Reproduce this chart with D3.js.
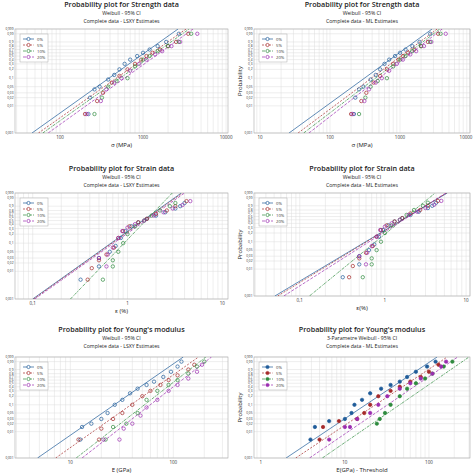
<!DOCTYPE html>
<html><head><meta charset="utf-8">
<script src="https://cdn.jsdelivr.net/npm/d3@7"></script>
<style>body{margin:0;background:#fff}text{font-family:"Open Sans",sans-serif}</style>
</head><body>
<script>
// series
let seriesNames = ['0%', '5%', '10%', '20%'];
let colors = ['#1f5c99', '#a52a2a', '#2e8b3e', '#9b2db0'];
let dashes = [null, '2,1.5', '3,1,1,1', '3,1.5'];
let probTicks = [0.001, 0.01, 0.02, 0.03, 0.05, 0.1, 0.2, 0.3, 0.4, 0.5, 0.6, 0.7, 0.8, 0.9, 0.99, 0.999];

// strength points [MPa, probability]
let strength0 = [[220,0.005],[230,0.02],[260,0.04],[300,0.05],[380,0.09],[450,0.13],[520,0.2],[600,0.3],[700,0.4],[850,0.5],[1000,0.6],[1200,0.7],[1500,0.8],[1900,0.9],[2700,0.99]];
let strength5 = [[200,0.005],[280,0.015],[330,0.03],[420,0.07],[520,0.12],[650,0.2],[800,0.3],[950,0.4],[1100,0.5],[1300,0.6],[1600,0.7],[2000,0.8],[2500,0.9],[3500,0.99]];
let strength10 = [[260,0.005],[320,0.02],[380,0.05],[480,0.08],[650,0.1],[800,0.25],[1000,0.4],[1200,0.5],[1500,0.65],[2000,0.8],[2700,0.9],[3800,0.99]];
let strength20 = [[210,0.005],[310,0.015],[360,0.04],[450,0.07],[550,0.1],[700,0.18],[900,0.3],[1100,0.4],[1400,0.55],[1700,0.65],[2200,0.8],[2800,0.9],[4500,0.99]];

// strain points [%, probability]
let strain0 = [[0.32,0.005],[0.5,0.015],[0.5,0.03],[0.65,0.05],[0.75,0.08],[0.85,0.15],[0.95,0.25],[1.1,0.35],[1.3,0.45],[1.6,0.55],[2.0,0.65],[2.5,0.75],[3.2,0.85],[3.6,0.9],[4.0,0.95]];
let strain5 = [[0.38,0.005],[0.42,0.013],[0.5,0.025],[0.6,0.04],[0.72,0.07],[0.8,0.15],[0.9,0.25],[1.05,0.35],[1.3,0.45],[1.6,0.55],[2.0,0.7],[2.6,0.8],[3.2,0.9],[4.2,0.97]];
let strain10 = [[0.55,0.005],[0.7,0.015],[0.7,0.025],[0.8,0.05],[0.9,0.1],[1.0,0.2],[1.2,0.35],[1.5,0.5],[1.8,0.65],[2.2,0.8],[2.8,0.9],[3.2,0.95]];
let strain20 = [[0.5,0.03],[0.6,0.015],[0.62,0.04],[0.7,0.07],[0.8,0.15],[0.88,0.25],[1.0,0.32],[1.2,0.4],[1.5,0.5],[1.9,0.65],[2.4,0.75],[3.0,0.85],[3.8,0.92],[4.6,0.97]];

// Young's modulus points [GPa, probability]
let young0 = [[12.5,0.005],[13,0.015],[16,0.02],[20,0.03],[23,0.05],[27,0.1],[32,0.15],[38,0.25],[45,0.35],[55,0.45],[65,0.55],[80,0.7],[95,0.85],[110,0.95],[120,0.99]];
let young5 = [[12,0.005],[19,0.005],[20,0.013],[26,0.03],[32,0.05],[40,0.1],[50,0.2],[60,0.3],[75,0.45],[90,0.6],[110,0.75],[140,0.9],[160,0.97]];
let young10 = [[22,0.005],[26,0.015],[35,0.02],[45,0.05],[55,0.15],[70,0.3],[90,0.45],[110,0.6],[140,0.8],[170,0.95],[200,0.99]];
let young20 = [[21,0.005],[30,0.005],[33,0.013],[40,0.02],[48,0.04],[55,0.08],[70,0.15],[90,0.3],[110,0.45],[140,0.65],[170,0.85],[190,0.97]];

// Young's modulus minus threshold
let youngT0 = [[3.9,0.005],[4.4,0.015],[6.5,0.025],[10,0.03],[12,0.05],[13,0.1],[16,0.15],[20,0.25],[27,0.35],[35,0.45],[45,0.55],[55,0.7],[70,0.85],[95,0.95],[120,0.99]];
let youngT5 = [[5,0.005],[5.5,0.015],[8.5,0.025],[14,0.03],[17,0.05],[20,0.1],[25,0.2],[35,0.3],[45,0.4],[60,0.55],[80,0.7],[100,0.85],[130,0.97]];
let youngT10 = [[24,0.02],[26,0.03],[30,0.05],[35,0.1],[45,0.2],[55,0.35],[70,0.5],[90,0.65],[110,0.8],[150,0.95],[190,0.99]];
let youngT20 = [[6.5,0.005],[10,0.015],[11.5,0.015],[14,0.03],[20,0.05],[25,0.1],[32,0.2],[45,0.35],[60,0.5],[80,0.65],[110,0.8],[140,0.95],[160,0.99]];

// fitted lines: x at p=0.001 and x at p=0.999
let fit1 = [[46,2640],[55,3300],[62,3600],[72,4000]];
let fit2 = [[26,2870],[35,3400],[42,3700],[50,4000]];
let fit3 = [[0.1,3.7],[0.102,3.8],[0.25,2.97],[0.105,4.0]];
let fit4 = [[0.051,5.4],[0.055,5.3],[0.13,3.9],[0.065,5.2]];
let fit5 = [[4.8,125],[7.2,176],[11.4,207],[13,235]];
let fit6 = [[2.0,125],[2.6,165],[5.4,300],[3.8,220]];

let panels = [
  {title: 'Probability plot for Strength data', sub: ['Weibull - 95% CI', 'Complete data - LSXY Estimates'], xlab: 'σ (MPa)',
   dom: [28.7, 10550], ticks: [100, 1000, 10000], pts: [strength0, strength5, strength10, strength20], fit: fit1, filled: false,
   x0: 15, x1: 228, y0: 29, y1: 133, ty: 7, ylab: false},
  {title: 'Probability plot for Strength data', sub: ['Weibull - 95% CI', 'Complete data - ML Estimates'], xlab: 'σ (MPa)',
   dom: [8.2, 10000], ticks: [10, 100, 1000, 10000], pts: [strength0, strength5, strength10, strength20], fit: fit2, filled: false,
   x0: 254, x1: 470, y0: 29, y1: 133, ty: 7, ylab: true},
  {title: 'Probability plot for Strain data', sub: ['Weibull - 95% CI', 'Complete data - LSXY Estimates'], xlab: 'ε (%)',
   dom: [0.065, 11.5], ticks: [0.1, 1, 10], pts: [strain0, strain5, strain10, strain20], fit: fit3, filled: false,
   x0: 15, x1: 228, y0: 193, y1: 299, ty: 171, ylab: false},
  {title: 'Probability plot for Strain data', sub: ['Weibull - 95% CI', 'Complete data - ML Estimates'], xlab: 'ε(%)',
   dom: [0.029, 10], ticks: [0.1, 1, 10], pts: [strain0, strain5, strain10, strain20], fit: fit4, filled: false,
   x0: 254, x1: 470, y0: 193, y1: 296, ty: 171, ylab: true},
  {title: "Probability plot for Young's modulus", sub: ['Weibull - 95% CI', 'Complete data - LSXY Estimates'], xlab: 'E (GPa)',
   dom: [2.9, 340], ticks: [10, 100], pts: [young0, young5, young10, young20], fit: fit5, filled: false,
   x0: 15, x1: 228, y0: 357, y1: 458, ty: 332, ylab: false},
  {title: "Probability plot for Young's modulus", sub: ['3-Parametre Weibull - 95% CI', 'Complete data - ML Estimates'], xlab: 'E(GPa) - Threshold',
   dom: [0.83, 308], ticks: [1, 10, 100], pts: [youngT0, youngT5, youngT10, youngT20], fit: fit6, filled: true,
   x0: 254, x1: 470, y0: 357, y1: 458, ty: 332, ylab: true}
];

let svg = d3.select('body').append('svg').attr('width', 474).attr('height', 474);
let wt = p => Math.log(-Math.log(1 - p));
let fmt = d => String(d).replace('.', ',');

panels.forEach(function(pn, k) {
  let g = svg.append('g');
  let x = d3.scaleLog().domain(pn.dom).range([pn.x0, pn.x1]);
  let y = d3.scaleLinear().domain([wt(0.001), wt(0.999)]).range([pn.y1, pn.y0]);
  let cx = (pn.x0 + pn.x1) / 2;

  g.append('text').attr('x', cx).attr('y', pn.ty).attr('text-anchor', 'middle')
    .attr('font-size', 7.2).attr('font-weight', 600).attr('fill', '#222').text(pn.title);
  pn.sub.forEach(function(s, i) {
    g.append('text').attr('x', cx).attr('y', pn.ty + 8 + i * 7.5).attr('text-anchor', 'middle')
      .attr('font-size', 5.2).attr('fill', '#222').text(s);
  });

  // grid
  let lo = Math.floor(Math.log10(pn.dom[0])), hi = Math.ceil(Math.log10(pn.dom[1]));
  let minor = [];
  for (let e = lo; e <= hi; e++) for (let m = 1; m < 10; m++) {
    let v = m * Math.pow(10, e);
    if (v >= pn.dom[0] && v <= pn.dom[1]) minor.push(v);
  }
  g.selectAll(null).data(minor).enter().append('line')
    .attr('x1', d => x(d)).attr('x2', d => x(d)).attr('y1', pn.y0).attr('y2', pn.y1)
    .attr('stroke', '#dcdcdc').attr('stroke-width', 0.5);
  g.selectAll(null).data(probTicks).enter().append('line')
    .attr('x1', pn.x0).attr('x2', pn.x1).attr('y1', d => y(wt(d))).attr('y2', d => y(wt(d)))
    .attr('stroke', '#dcdcdc').attr('stroke-width', 0.5);

  g.append('rect').attr('x', pn.x0).attr('y', pn.y0).attr('width', pn.x1 - pn.x0).attr('height', pn.y1 - pn.y0)
    .attr('fill', 'none').attr('stroke', '#aaa').attr('stroke-width', 0.6);

  // tick labels
  g.selectAll(null).data(probTicks).enter().append('text')
    .attr('x', pn.x0 - 1.5).attr('y', d => y(wt(d)) + 1.1).attr('text-anchor', 'end')
    .attr('font-size', 3.2).attr('fill', '#333').text(fmt);
  g.selectAll(null).data(pn.ticks).enter().append('text')
    .attr('x', d => Math.min(x(d), 466)).attr('y', pn.y1 + 6).attr('text-anchor', 'middle')
    .attr('font-size', 4.5).attr('fill', '#333').text(fmt);
  g.append('text').attr('x', cx).attr('y', pn.y1 + 14).attr('text-anchor', 'middle')
    .attr('font-size', 6).attr('fill', '#222').text(pn.xlab);
  if (pn.ylab) {
    g.append('text').attr('transform', `translate(${pn.x0 - 12},${(pn.y0 + pn.y1) / 2}) rotate(-90)`)
      .attr('text-anchor', 'middle').attr('font-size', 6).attr('fill', '#222').text('Probability');
  }

  // clip
  let cid = 'clip' + k;
  svg.append('clipPath').attr('id', cid).append('rect')
    .attr('x', pn.x0).attr('y', pn.y0).attr('width', pn.x1 - pn.x0).attr('height', pn.y1 - pn.y0);
  let pg = g.append('g').attr('clip-path', `url(#${cid})`);

  pn.fit.forEach(function(f, i) {
    pg.append('line').attr('x1', x(f[0])).attr('y1', y(wt(0.001))).attr('x2', x(f[1])).attr('y2', y(wt(0.999)))
      .attr('stroke', colors[i]).attr('stroke-width', 0.7).attr('stroke-dasharray', dashes[i]);
  });
  pn.pts.forEach(function(arr, i) {
    pg.selectAll(null).data(arr).enter().append('circle')
      .attr('cx', d => x(d[0])).attr('cy', d => y(wt(d[1]))).attr('r', 1.7)
      .attr('fill', pn.filled ? colors[i] : 'none').attr('stroke', colors[i]).attr('stroke-width', 0.7);
  });

  // legend
  let lx = pn.x0 + 5, ly = pn.y0 + 5;
  g.append('rect').attr('x', lx).attr('y', ly).attr('width', 28).attr('height', 28)
    .attr('fill', '#fff').attr('stroke', '#aaa').attr('stroke-width', 0.5);
  seriesNames.forEach(function(s, i) {
    let yy = ly + 5 + i * 6;
    g.append('line').attr('x1', lx + 3).attr('x2', lx + 14).attr('y1', yy).attr('y2', yy)
      .attr('stroke', colors[i]).attr('stroke-width', 0.7).attr('stroke-dasharray', dashes[i]);
    g.append('circle').attr('cx', lx + 8.5).attr('cy', yy).attr('r', 1.6)
      .attr('fill', pn.filled ? colors[i] : '#fff').attr('stroke', colors[i]).attr('stroke-width', 0.7);
    g.append('text').attr('x', lx + 17).attr('y', yy + 1.5).attr('font-size', 4.2).attr('fill', '#333').text(s);
  });
});
</script>
</body></html>
